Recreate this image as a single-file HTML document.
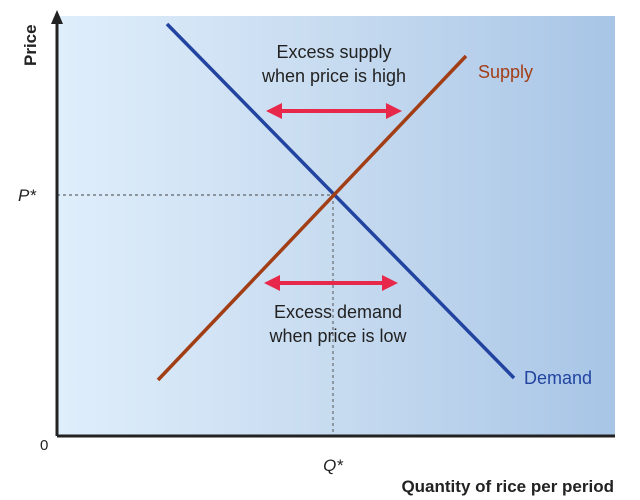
<!DOCTYPE html>
<html><head><style>body{margin:0;background:#fff}svg{display:block}</style></head><body>
<svg width="640" height="500" xmlns="http://www.w3.org/2000/svg" font-family="Liberation Sans, sans-serif">
<defs><linearGradient id="g" x1="0" x2="1" y1="0" y2="0"><stop offset="0" stop-color="#dfeefb"/><stop offset="0.5" stop-color="#c7dbf0"/><stop offset="1" stop-color="#a8c5e6"/></linearGradient></defs>
<rect x="57" y="16" width="558" height="420" fill="url(#g)"/>
<line x1="57" y1="195" x2="333" y2="195" stroke="#444" stroke-width="1" stroke-dasharray="3,3"/>
<line x1="333" y1="195" x2="333" y2="436" stroke="#555" stroke-width="1" stroke-dasharray="3,3"/>
<line x1="167" y1="24" x2="514" y2="378" stroke="#2244a0" stroke-width="3.5"/>
<line x1="158" y1="380" x2="466" y2="56" stroke="#a23e16" stroke-width="3.5"/>
<g stroke="#e8284a" stroke-width="4" fill="#e8284a">
<line x1="278" y1="111" x2="390" y2="111"/><polygon points="266,111 282,103 282,119" stroke="none"/><polygon points="402,111 386,103 386,119" stroke="none"/>
<line x1="276" y1="283" x2="386" y2="283"/><polygon points="264,283 280,275 280,291" stroke="none"/><polygon points="398,283 382,275 382,291" stroke="none"/>
</g>
<line x1="57" y1="436" x2="615" y2="436" stroke="#222" stroke-width="3"/>
<line x1="57" y1="436" x2="57" y2="20" stroke="#222" stroke-width="3"/>
<polygon points="57,10 51,24 63,24" fill="#222"/>
<g fill="#222" font-size="18" text-anchor="middle">
<text x="334" y="58">Excess supply</text><text x="334" y="82">when price is high</text>
<text x="338" y="318">Excess demand</text><text x="338" y="342">when price is low</text>
</g>
<text x="478" y="78" font-size="18" fill="#a23e16">Supply</text>
<text x="524" y="384" font-size="18" fill="#2244a0">Demand</text>
<text x="18" y="201" font-size="17" font-style="italic" fill="#222">P*</text>
<text x="333" y="471" font-size="17" font-style="italic" fill="#222" text-anchor="middle">Q*</text>
<text x="40" y="450" font-size="15" fill="#222">0</text>
<text x="614" y="492" font-size="17" font-weight="bold" fill="#222" text-anchor="end">Quantity of rice per period</text>
<text transform="translate(36,66) rotate(-90)" font-size="17" font-weight="bold" fill="#222">Price</text>
</svg>
</body></html>
